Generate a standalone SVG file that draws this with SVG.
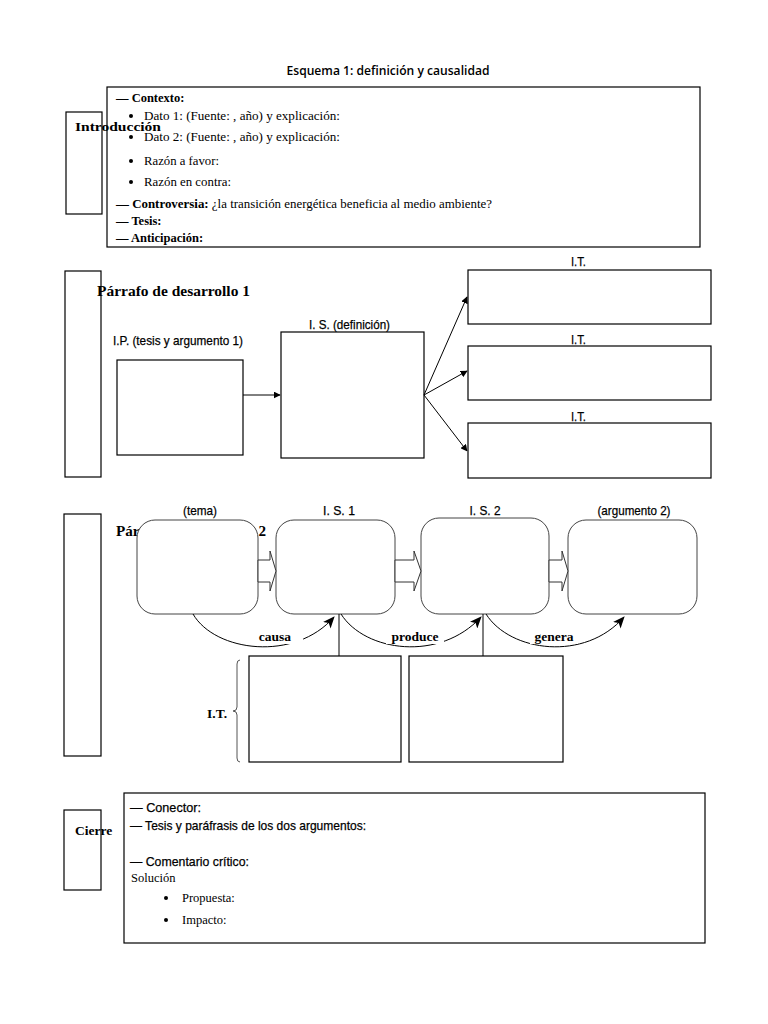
<svg xmlns="http://www.w3.org/2000/svg" width="768" height="1024" viewBox="0 0 768 1024">
<defs>
<style>
.box{fill:#fff;stroke:#000;stroke-width:1.2}
.rbox{fill:#fff;stroke:#444;stroke-width:1}
.ser{font-family:"Liberation Serif","Times New Roman",serif;font-size:12.5px;fill:#000}
.serb{font-family:"Liberation Serif","Times New Roman",serif;font-weight:bold;fill:#000}
.san{font-family:"Liberation Sans",Arial,sans-serif;font-size:13.5px;fill:#000;stroke:#000;stroke-width:0.25}
.ln{stroke:#000;stroke-width:1;fill:none}
.blk{fill:#fff;stroke:#333;stroke-width:1}
</style>
<marker id="ah" viewBox="0 0 10 10" refX="9" refY="5" markerWidth="7" markerHeight="7" orient="auto" markerUnits="userSpaceOnUse">
<path d="M0,0 L10,5 L0,10 z" fill="#000"/>
</marker>
<marker id="st" viewBox="0 0 12 10" refX="11" refY="5" markerWidth="12" markerHeight="10" orient="auto" markerUnits="userSpaceOnUse">
<path d="M0,0 L12,5 L0,10 L3,5 z" fill="#000"/>
</marker>
</defs>
<rect width="768" height="1024" fill="#fff"/>

<text x="388" y="75" text-anchor="middle" font-family="'Open Sans','Noto Sans',sans-serif" font-size="12.5" font-weight="600" textLength="203" lengthAdjust="spacingAndGlyphs">Esquema 1: definición y causalidad</text>

<g id="introduccion">
<rect class="box" x="107" y="87" width="593" height="160"/>
<rect class="box" x="66" y="112" width="36" height="102" style="fill:none"/>
<text class="serb" x="75" y="131" font-size="13.5" textLength="86" lengthAdjust="spacingAndGlyphs">Introducción</text>
<text class="ser" x="116" y="102" font-weight="bold">— Contexto:</text>
<circle cx="131" cy="116" r="2"/>
<text class="ser" x="144" y="120" textLength="196" lengthAdjust="spacingAndGlyphs">Dato 1: (Fuente:  , año) y explicación:</text>
<circle cx="131" cy="137" r="2"/>
<text class="ser" x="144" y="141" textLength="196" lengthAdjust="spacingAndGlyphs">Dato 2: (Fuente:  , año) y explicación:</text>
<circle cx="131" cy="161" r="2"/>
<text class="ser" x="144" y="165" textLength="75" lengthAdjust="spacingAndGlyphs">Razón a favor:</text>
<circle cx="131" cy="182" r="2"/>
<text class="ser" x="144" y="186" textLength="87" lengthAdjust="spacingAndGlyphs">Razón en contra:</text>
<text class="ser" x="116" y="208" textLength="376" lengthAdjust="spacingAndGlyphs"><tspan font-weight="bold">— Controversia:</tspan> ¿la transición energética beneficia al medio ambiente?</text>
<text class="ser" x="116" y="225" font-weight="bold">— Tesis:</text>
<text class="ser" x="116" y="242" font-weight="bold">— Anticipación:</text>
</g>

<g id="parrafo1">
<rect class="box" x="65" y="271" width="36" height="206"/>
<text class="serb" x="97" y="296" font-size="14.5" textLength="153" lengthAdjust="spacingAndGlyphs">Párrafo de desarrollo 1</text>
</g>
<g id="ip">
<text class="san" x="113" y="345" textLength="130" lengthAdjust="spacingAndGlyphs">I.P. (tesis y argumento 1)</text>
<rect class="box" x="117" y="360" width="126" height="95"/>
</g>
<g id="is">
<text class="san" x="309" y="329" textLength="81" lengthAdjust="spacingAndGlyphs">I. S. (definición)</text>
<rect class="box" x="281" y="332" width="143" height="126"/>
</g>
<g id="it1">
<text class="san" x="571" y="266" textLength="15" lengthAdjust="spacingAndGlyphs">I.T.</text>
<rect class="box" x="468" y="270" width="243" height="54"/>
</g>
<g id="it2">
<text class="san" x="571" y="344" textLength="15" lengthAdjust="spacingAndGlyphs">I.T.</text>
<rect class="box" x="468" y="346" width="243" height="54"/>
</g>
<g id="it3">
<text class="san" x="571" y="421" textLength="15" lengthAdjust="spacingAndGlyphs">I.T.</text>
<rect class="box" x="468" y="423" width="243" height="55"/>
</g>

<g id="parrafo2">
<rect class="box" x="64" y="514" width="37" height="242"/>
<text class="serb" x="116" y="536" font-size="14.5" textLength="150" lengthAdjust="spacingAndGlyphs">Párrafo de desarrollo 2</text>
</g>
<g id="tema">
<text class="san" x="200" y="515" text-anchor="middle" textLength="34" lengthAdjust="spacingAndGlyphs">(tema)</text>
<rect class="rbox" x="137" y="520" width="121" height="94" rx="18"/>
</g>
<g id="is1">
<text class="san" x="339" y="515" text-anchor="middle" textLength="32" lengthAdjust="spacingAndGlyphs">I. S. 1</text>
<rect class="rbox" x="276" y="520" width="119" height="94" rx="18"/>
</g>
<g id="is2">
<text class="san" x="485" y="515" text-anchor="middle" textLength="31" lengthAdjust="spacingAndGlyphs">I. S. 2</text>
<rect class="rbox" x="421" y="518" width="128" height="96" rx="18"/>
</g>
<g id="arg2">
<text class="san" x="634" y="515" text-anchor="middle" textLength="73" lengthAdjust="spacingAndGlyphs">(argumento 2)</text>
<rect class="rbox" x="568" y="520" width="129" height="94" rx="18"/>
</g>
<g id="itb1">
<rect class="box" x="249" y="656" width="152" height="106"/>
</g>
<g id="itb2">
<rect class="box" x="409" y="656" width="154" height="106"/>
</g>
<g id="it-label">
<path d="M240,660 q-3,0 -3,4 L237,707 q0,4 -4,4 q4,0 4,4 L237,758 q0,4 3,4" fill="none" stroke="#555" stroke-width="1"/>
<text class="serb" x="207" y="718" font-size="13.5">I.T.</text>
</g>

<g id="connectors">
<line class="ln" x1="243" y1="395" x2="280" y2="395" marker-end="url(#ah)"/>
<line class="ln" x1="424" y1="395" x2="467" y2="297" marker-end="url(#ah)"/>
<line class="ln" x1="424" y1="395" x2="467" y2="371" marker-end="url(#ah)"/>
<line class="ln" x1="424" y1="395" x2="467" y2="451" marker-end="url(#ah)"/>
<polygon class="blk" points="258,560 270,560 270,551 276,571 270,591 270,582 258,582"/>
<polygon class="blk" points="395,560 414,560 414,551 421,571 414,591 414,582 395,582"/>
<polygon class="blk" points="549,560 562,560 562,551 568,571 562,591 562,582 549,582"/>
<path class="ln" stroke="#333" d="M193,614 C215,652 295,662 334,617" marker-end="url(#st)"/>
<path class="ln" stroke="#333" d="M341,614 C365,652 440,662 481,617" marker-end="url(#st)"/>
<path class="ln" stroke="#333" d="M486,614 C510,652 585,662 624,617" marker-end="url(#st)"/>
<line class="ln" x1="339" y1="614" x2="339" y2="656"/>
<line class="ln" x1="483" y1="614" x2="483" y2="656"/>
<rect x="248" y="629" width="55" height="15" fill="#fff"/>
<rect x="386" y="629" width="58" height="15" fill="#fff"/>
<rect x="530" y="629" width="48" height="15" fill="#fff"/>
<text class="serb" x="275" y="641" font-size="13.5" text-anchor="middle">causa</text>
<text class="serb" x="415" y="641" font-size="13.5" text-anchor="middle">produce</text>
<text class="serb" x="554" y="641" font-size="13.5" text-anchor="middle">genera</text>
</g>

<g id="cierre">
<rect class="box" x="64" y="810" width="37" height="80"/>
<text class="serb" x="75" y="835" font-size="13.5">Cierre</text>
<rect class="box" x="124" y="793" width="581" height="150"/>
<text class="san" x="130" y="812" textLength="71" lengthAdjust="spacingAndGlyphs">— Conector:</text>
<text class="san" x="130" y="830" textLength="236" lengthAdjust="spacingAndGlyphs">— Tesis y paráfrasis de los dos argumentos:</text>
<text class="san" x="130" y="866" textLength="119" lengthAdjust="spacingAndGlyphs">— Comentario crítico:</text>
<text class="ser" x="131" y="882">Solución</text>
<circle cx="166" cy="898" r="2"/>
<text class="ser" x="182" y="902" font-size="11">Propuesta:</text>
<circle cx="166" cy="920" r="2"/>
<text class="ser" x="182" y="924" font-size="11">Impacto:</text>
</g>
</svg>
